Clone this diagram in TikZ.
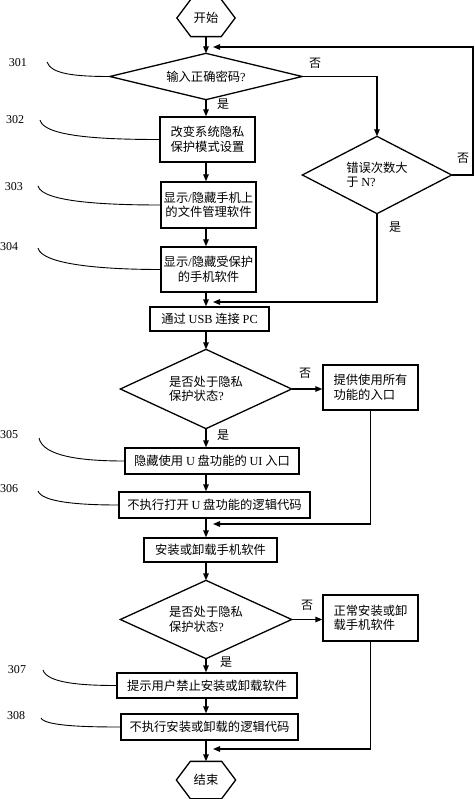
\documentclass[tikz,border=0pt]{standalone}
\usepackage{fontspec}
\setmainfont{Liberation Serif}
\newfontfamily\cjkfont{Noto Sans CJK SC}
\usetikzlibrary{arrows.meta,calc}
\newcommand\diapath[1]{\draw (#1.north) -- (#1.east) -- (#1.south) -- (#1.west) -- cycle;}
\newcommand\hexpath[1]{\draw (#1.west) -- ([xshift=14pt]#1.north west) -- ([xshift=-14pt]#1.north east) -- (#1.east) -- ([xshift=-14pt]#1.south east) -- ([xshift=14pt]#1.south west) -- cycle;}
\begin{document}
\begin{tikzpicture}[x=1pt,y=-1pt,
  line width=1.3pt,
  every node/.style={inner sep=0pt, font=\cjkfont\fontsize{12.3}{14.5}\selectfont},
  box/.style={draw, rectangle, align=center},
  boxl/.style={draw, rectangle, align=left},
  dia/.style={align=left},
  arr/.style={-{Triangle[length=7pt,width=5.5pt]}},
  lbl/.style={font=\rmfamily\fontsize{12}{14}\selectfont},
  yn/.style={font=\cjkfont\fontsize{12}{14}\selectfont},
  lead/.style={line width=0.9pt}
]
\useasboundingbox (0,0) rectangle (474,799);
\coordinate (spine) at (206,0);
\coordinate (rt) at (473,0);

% nodes
\node[minimum width=57pt, minimum height=36pt] (start) at (206,18) {开始};
\hexpath{start}
\node[dia, minimum width=191pt, minimum height=45pt] (d1) at (206,76.5) {输入正确密码{\rmfamily ?}};
\diapath{d1}
\node[dia, minimum width=148pt, minimum height=76pt] (d2) at (377,175) {错误次数大\\于 {\rmfamily N?}};
\diapath{d2}
\node[box, minimum width=95pt, minimum height=45pt] (b302) at (207.5,139.5) {改变系统隐私\\保护模式设置};
\node[box, minimum width=95pt, minimum height=46pt] (b303) at (208.5,205) {显示{\rmfamily /}隐藏手机上\\的文件管理软件};
\node[box, minimum width=95pt, minimum height=45pt] (b304) at (208.5,269.5) {显示{\rmfamily /}隐藏受保护\\的手机软件};
\node[box, minimum width=119pt, minimum height=24pt] (usb) at (209.5,319) {通过 {\rmfamily USB} 连接 {\rmfamily PC}};
\node[dia, minimum width=170pt, minimum height=78pt] (d3) at (206,389) {是否处于隐私\\保护状态{\rmfamily ?}};
\diapath{d3}
\node[boxl, minimum width=95pt, minimum height=45pt] (ball) at (370.5,387.5) {提供使用所有\\功能的入口};
\node[box, minimum width=174pt, minimum height=26pt] (b305) at (212,461) {隐藏使用 {\rmfamily U} 盘功能的 {\rmfamily UI} 入口};
\node[box, minimum width=191pt, minimum height=26pt] (b306) at (214.5,505) {不执行打开 {\rmfamily U} 盘功能的逻辑代码};
\node[box, minimum width=133pt, minimum height=24pt] (inst) at (210.5,550) {安装或卸载手机软件};
\node[dia, minimum width=170pt, minimum height=77pt] (d4) at (206,619.5) {是否处于隐私\\保护状态{\rmfamily ?}};
\diapath{d4}
\node[boxl, minimum width=95pt, minimum height=46pt] (bnorm) at (370.5,618) {正常安装或卸\\载手机软件};
\node[box, minimum width=180pt, minimum height=25pt] (b307) at (207,685.5) {提示用户禁止安装或卸载软件};
\node[box, minimum width=177pt, minimum height=26pt] (b308) at (209.5,727) {不执行安装或卸载的逻辑代码};
\node[minimum width=58pt, minimum height=36pt] (end) at (206,780) {结束};
\hexpath{end}

% junction coordinates
\coordinate (j1) at (213,47);
\coordinate (j2) at (213,302);
\coordinate (j3) at (213,524);
\coordinate (j4) at (213,749);

% main flow
\draw[arr] (start.south) -- (d1.north);
\draw[arr] (d1.south) -- (b302.north -| spine);
\draw[arr] (b302.south -| spine) -- (b303.north -| spine);
\draw[arr] (b303.south -| spine) -- (b304.north -| spine);
\draw[arr] (b304.south -| spine) -- (usb.north -| spine);
\draw[arr] (usb.south -| spine) -- (d3.north);
\draw[arr] (d3.south) -- (b305.north -| spine);
\draw[arr] (b305.south -| spine) -- (b306.north -| spine);
\draw[arr] (b306.south -| spine) -- (inst.north -| spine);
\draw[arr] (inst.south -| spine) -- (d4.north);
\draw[arr] (d4.south) -- (b307.north -| spine);
\draw[arr] (b307.south -| spine) -- (b308.north -| spine);
\draw[arr] (b308.south -| spine) -- (end.north);

% side branches
\draw[arr] (d1.east) -- (d1.east -| d2.north) -- (d2.north);
\draw[arr] (d2.east) -- (d2.east -| rt) -- (rt |- j1) -- (j1);
\draw[arr] (d2.south) -- (d2.south |- j2) -- (j2);
\draw[arr] (d3.east) -- (d3.east -| ball.west);
\draw[arr] (ball.south) -- (ball.south |- j3) -- (j3);
\draw[arr] (d4.east) -- (d4.east -| bnorm.west);
\draw[arr] (bnorm.south) -- (bnorm.south |- j4) -- (j4);

% yes / no labels
\node[yn] (y1) at (223,104) {是};
\node[yn] (n1) at (315,63) {否};
\node[yn] (n2) at (463,158) {否};
\node[yn] (y2) at (395,227) {是};
\node[yn] (n3) at (305,373) {否};
\node[yn] (y3) at (223,435) {是};
\node[yn] (n4) at (307,605) {否};
\node[yn] (y4) at (226,662) {是};

% reference numbers and leaders
\node[lbl] (n301) at (18,63) {301};
\node[lbl] (n302) at (15,120) {302};
\node[lbl] (n303) at (14,187) {303};
\node[lbl] (n304) at (9,247) {304};
\node[lbl] (n305) at (9,435) {305};
\node[lbl] (n306) at (9,489) {306};
\node[lbl] (n307) at (17,670) {307};
\node[lbl] (n308) at (16,716) {308};
\coordinate (c301) at (47,62);
\coordinate (c302) at (40,120);
\coordinate (c303) at (38,186);
\coordinate (c304) at (38,248);
\coordinate (c305) at (39,438);
\coordinate (c306) at (38,491);
\coordinate (c307) at (43,670);
\coordinate (c308) at (41,718);
\draw[lead] (c301) .. controls ($(c301)+(4,12)$) and ($(d1.west)+(-35,0)$) .. (d1.west);
\draw[lead] (c302) .. controls ($(c302)+(4,17)$) and ($(b302.west)+(-55,0)$) .. (b302.west);
\draw[lead] (c303) .. controls ($(c303)+(4,16)$) and ($(b303.west)+(-55,0)$) .. (b303.west);
\draw[lead] (c304) .. controls ($(c304)+(4,17)$) and ($(b304.west)+(-55,0)$) .. (b304.west);
\draw[lead] (c305) .. controls ($(c305)+(4,19)$) and ($(b305.west)+(-40,0)$) .. (b305.west);
\draw[lead] (c306) .. controls ($(c306)+(4,11)$) and ($(b306.west)+(-40,0)$) .. (b306.west);
\draw[lead] (c307) .. controls ($(c307)+(4,13)$) and ($(b307.west)+(-35,0)$) .. (b307.west);
\draw[lead] (c308) .. controls ($(c308)+(4,8)$) and ($(b308.west)+(-35,0)$) .. (b308.west);
\end{tikzpicture}
\end{document}
